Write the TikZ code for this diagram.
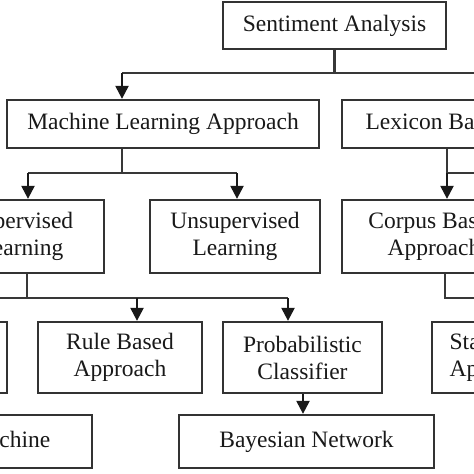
\documentclass[tikz,border=0pt]{standalone}
\usepackage{fontspec}
\setmainfont{Liberation Serif}
\usetikzlibrary{arrows.meta}
\begin{document}
\begin{tikzpicture}[x=1pt,y=-1pt,
  box/.style={draw=black!80, line width=2.3pt, align=center, inner sep=0pt,
    font=\fontsize{23.5}{27}\selectfont, text=black!90},
  conn/.style={draw=black!78, line width=2.3pt},
  arr/.style={conn, -{Triangle[length=13pt,width=13pt]}, black!90}]
\useasboundingbox (0,0) rectangle (474,474);
\clip (0,0) rectangle (474,474);
\fill[white] (0,0) rectangle (474,474);
% boxes
\node[box, minimum width=223pt, minimum height=47pt] (SA) at (334.5,25.5) {Sentiment Analysis};
\node[box, minimum width=312pt, minimum height=48pt] (ML) at (163,124) {Machine Learning Approach};
\node[box, minimum width=286pt, minimum height=48pt] (LB) at (485,124) {Lexicon Based Approach};
\node[box, minimum width=166pt, minimum height=73pt] (SL) at (21,236.5) {Supervised\\Learning};
\node[box, minimum width=170pt, minimum height=73pt] (UL) at (235,236.5) {Unsupervised\\Learning};
\node[box, minimum width=184pt, minimum height=73pt] (CB) at (434,236.5) {Corpus Based\\Approach};
\node[box, minimum width=134pt, minimum height=71pt] (LC) at (-60,357.5) {};
\node[box, minimum width=164pt, minimum height=71pt] (RB) at (120,357.5) {Rule Based\\Approach};
\node[box, minimum width=159pt, minimum height=71pt] (PC) at (302.5,357.5) {Probabilistic\\Classifier};
\node[box, minimum width=128pt, minimum height=71pt] (ST) at (496,357.5) {Statistical\\Approach};
\node[box, minimum width=313pt, minimum height=53pt] (SV) at (-64.5,441.5) {Support Vector Machine};
\node[box, minimum width=255pt, minimum height=53pt] (BN) at (306.5,441.5) {Bayesian Network};
% junction coordinates
\coordinate (t1) at (122,73);
\coordinate (tR) at (490,73);
\coordinate (m0) at (122,173);
\coordinate (m1) at (28,173);
\coordinate (m2) at (237,173);
\coordinate (l0) at (447,173);
\coordinate (lR) at (490,173);
\coordinate (s0) at (27,298);
\coordinate (sL) at (-10,298);
\coordinate (s1) at (137,298);
\coordinate (s2) at (288,298);
\coordinate (c0) at (445,298);
\coordinate (cR) at (490,298);
\coordinate (p0) at (303,400);
% connectors
\draw[conn] (SA.south) -- (SA.south |- t1);
\draw[conn] (t1) -- (tR);
\draw[arr] (t1) -- (t1 |- ML.north);
\draw[conn] (m0 |- ML.south) -- (m0);
\draw[conn] (m1) -- (m2);
\draw[arr] (m1) -- (m1 |- SL.north);
\draw[arr] (m2) -- (m2 |- UL.north);
\draw[conn] (l0 |- LB.south) -- (l0) -- (lR);
\draw[arr] (l0) -- (l0 |- CB.north);
\draw[conn] (s0 |- SL.south) -- (s0);
\draw[conn] (sL) -- (s2);
\draw[arr] (s1) -- (s1 |- RB.north);
\draw[arr] (s2) -- (s2 |- PC.north);
\draw[conn] (c0 |- CB.south) -- (c0) -- (cR);
\draw[arr] (p0 |- PC.south) -- (p0 |- BN.north);
\end{tikzpicture}
\end{document}
